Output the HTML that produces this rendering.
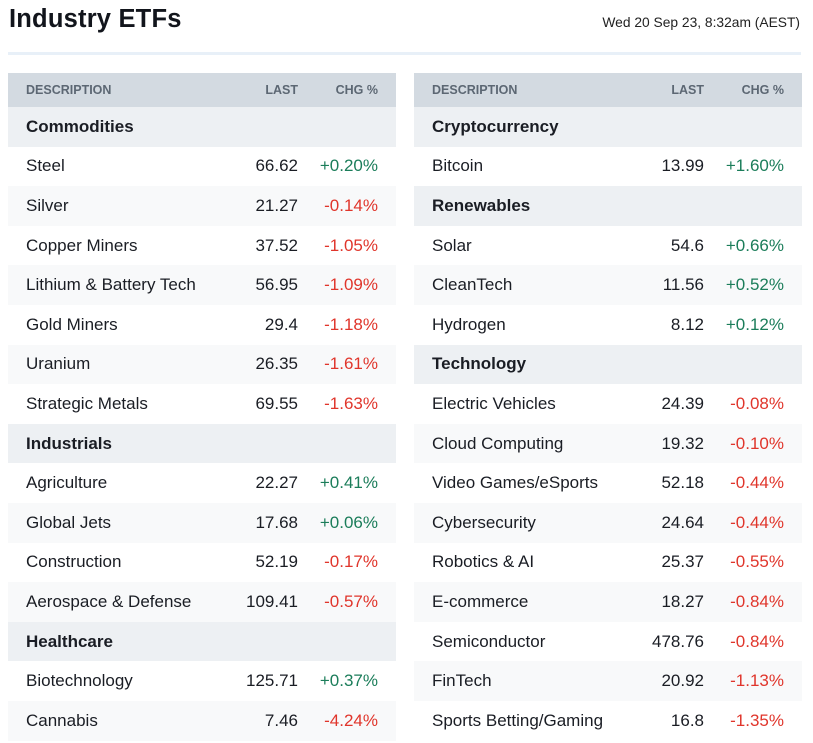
<!DOCTYPE html>
<html><head><meta charset="utf-8"><style>
*{margin:0;padding:0;box-sizing:border-box}
body{width:813px;height:743px;background:#fff;font-family:"Liberation Sans",sans-serif;color:#1a1d24;position:relative;overflow:hidden}
h1{position:absolute;left:9px;top:5px;font-size:25.5px;font-weight:bold;color:#12151c;letter-spacing:0.2px}
.date{position:absolute;right:13px;top:15px;font-size:13.8px;color:#222}
.rule{position:absolute;left:8px;top:52px;width:793px;height:3px;background:#e8f0f8}
.tbl{position:absolute;top:73px;width:388px}
.hd{height:34px;background:#d3dae1;display:flex;align-items:center;font-size:12.5px;font-weight:bold;color:#5c6773}
.r{height:39.6px;display:flex;align-items:center;font-size:17px}
.r.g{background:#f8f9fa}
.r.c{background:#edf0f3;font-weight:bold}
.d{width:210px;padding-left:18px;white-space:nowrap}
.l{width:80px;text-align:right}
.p{width:80px;text-align:right}
.up{color:#1b7d5a}.dn{color:#e0352b}
</style></head><body>
<h1>Industry ETFs</h1>
<div class="date">Wed 20 Sep 23, 8:32am (AEST)</div>
<div class="rule"></div>
<div class="tbl" style="left:8px">
<div class="hd"><div class="d">DESCRIPTION</div><div class="l">LAST</div><div class="p">CHG %</div></div>
<div class="r c"><div class="d">Commodities</div></div>
<div class="r"><div class="d">Steel</div><div class="l">66.62</div><div class="p up">+0.20%</div></div>
<div class="r g"><div class="d">Silver</div><div class="l">21.27</div><div class="p dn">-0.14%</div></div>
<div class="r"><div class="d">Copper Miners</div><div class="l">37.52</div><div class="p dn">-1.05%</div></div>
<div class="r g"><div class="d">Lithium &amp; Battery Tech</div><div class="l">56.95</div><div class="p dn">-1.09%</div></div>
<div class="r"><div class="d">Gold Miners</div><div class="l">29.4</div><div class="p dn">-1.18%</div></div>
<div class="r g"><div class="d">Uranium</div><div class="l">26.35</div><div class="p dn">-1.61%</div></div>
<div class="r"><div class="d">Strategic Metals</div><div class="l">69.55</div><div class="p dn">-1.63%</div></div>
<div class="r c"><div class="d">Industrials</div></div>
<div class="r"><div class="d">Agriculture</div><div class="l">22.27</div><div class="p up">+0.41%</div></div>
<div class="r g"><div class="d">Global Jets</div><div class="l">17.68</div><div class="p up">+0.06%</div></div>
<div class="r"><div class="d">Construction</div><div class="l">52.19</div><div class="p dn">-0.17%</div></div>
<div class="r g"><div class="d">Aerospace &amp; Defense</div><div class="l">109.41</div><div class="p dn">-0.57%</div></div>
<div class="r c"><div class="d">Healthcare</div></div>
<div class="r"><div class="d">Biotechnology</div><div class="l">125.71</div><div class="p up">+0.37%</div></div>
<div class="r g"><div class="d">Cannabis</div><div class="l">7.46</div><div class="p dn">-4.24%</div></div>
</div>
<div class="tbl" style="left:414px">
<div class="hd"><div class="d">DESCRIPTION</div><div class="l">LAST</div><div class="p">CHG %</div></div>
<div class="r c"><div class="d">Cryptocurrency</div></div>
<div class="r"><div class="d">Bitcoin</div><div class="l">13.99</div><div class="p up">+1.60%</div></div>
<div class="r c"><div class="d">Renewables</div></div>
<div class="r"><div class="d">Solar</div><div class="l">54.6</div><div class="p up">+0.66%</div></div>
<div class="r g"><div class="d">CleanTech</div><div class="l">11.56</div><div class="p up">+0.52%</div></div>
<div class="r"><div class="d">Hydrogen</div><div class="l">8.12</div><div class="p up">+0.12%</div></div>
<div class="r c"><div class="d">Technology</div></div>
<div class="r"><div class="d">Electric Vehicles</div><div class="l">24.39</div><div class="p dn">-0.08%</div></div>
<div class="r g"><div class="d">Cloud Computing</div><div class="l">19.32</div><div class="p dn">-0.10%</div></div>
<div class="r"><div class="d">Video Games/eSports</div><div class="l">52.18</div><div class="p dn">-0.44%</div></div>
<div class="r g"><div class="d">Cybersecurity</div><div class="l">24.64</div><div class="p dn">-0.44%</div></div>
<div class="r"><div class="d">Robotics &amp; AI</div><div class="l">25.37</div><div class="p dn">-0.55%</div></div>
<div class="r g"><div class="d">E-commerce</div><div class="l">18.27</div><div class="p dn">-0.84%</div></div>
<div class="r"><div class="d">Semiconductor</div><div class="l">478.76</div><div class="p dn">-0.84%</div></div>
<div class="r g"><div class="d">FinTech</div><div class="l">20.92</div><div class="p dn">-1.13%</div></div>
<div class="r"><div class="d">Sports Betting/Gaming</div><div class="l">16.8</div><div class="p dn">-1.35%</div></div>
</div>
</body></html>
